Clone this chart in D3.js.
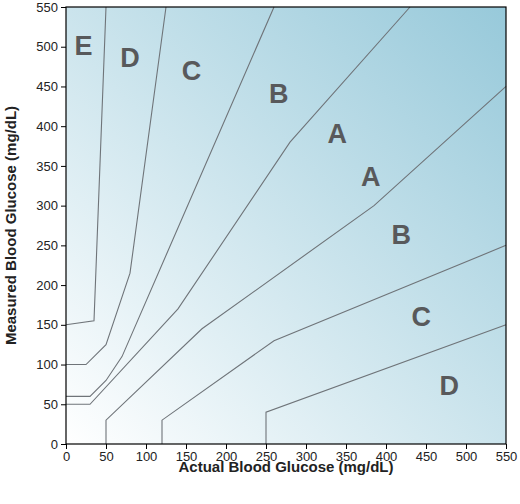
<!DOCTYPE html>
<html><head><meta charset="utf-8">
<script src="https://cdn.jsdelivr.net/npm/d3@7"></script>
<style>body{margin:0;background:#fff}</style>
</head><body><div id="chart"></div>
<script>
const ticks = d3.range(0, 551, 50);
const zoneLines = [
  [[0,50],[30,50],[140,170],[280,380],[430,550]],
  [[50,0],[50,30],[170,145],[385,300],[550,450]],
  [[0,60],[30,60],[50,80],[70,110],[260,550]],
  [[120,0],[120,30],[260,130],[550,250]],
  [[0,100],[25,100],[50,125],[80,215],[125,550]],
  [[250,0],[250,40],[550,150]],
  [[0,150],[35,155],[50,550]]
];
const zoneLabels = ["E","D","C","B","A","A","B","C","D"];
const labelX = [22, 80, 157, 266, 339, 381, 419, 444, 479];
const labelY = [502, 487, 470, 441, 391, 336, 263, 161, 73];

const W = 520, H = 504;
const margin = { top: 7, right: 14, bottom: 60, left: 66 };
const width = W - margin.left - margin.right;
const height = H - margin.top - margin.bottom;

const x = d3.scaleLinear().domain([0, 550]).range([0, width]);
const y = d3.scaleLinear().domain([0, 550]).range([height, 0]);

const root = d3.select("#chart").append("svg").attr("width", W).attr("height", H);
const defs = root.append("defs");
const grad = defs.append("linearGradient").attr("id", "bg")
  .attr("x1", "0%").attr("y1", "100%").attr("x2", "100%").attr("y2", "0%");
grad.append("stop").attr("offset", "0%").attr("stop-color", "#ffffff");
grad.append("stop").attr("offset", "100%").attr("stop-color", "#97c9da");

const svg = root.append("g").attr("transform", `translate(${margin.left},${margin.top})`);
svg.append("rect").attr("width", width).attr("height", height).attr("fill", "url(#bg)");

const line = d3.line().x(d => x(d[0])).y(d => y(d[1]));
svg.selectAll(".zone").data(zoneLines).join("path")
  .attr("d", line).attr("fill", "none").attr("stroke", "#6f7479").attr("stroke-width", 1.1);

svg.selectAll(".lab").data(zoneLabels).join("text")
  .attr("x", (d, i) => x(labelX[i])).attr("y", (d, i) => y(labelY[i]))
  .attr("text-anchor", "middle").attr("dy", "0.35em")
  .attr("font-family", "Liberation Sans, Arial, sans-serif").attr("font-weight", "bold")
  .attr("font-size", 27).attr("fill", "#58595b").text(d => d);

svg.append("rect").attr("width", width).attr("height", height)
  .attr("fill", "none").attr("stroke", "#000").attr("stroke-width", 1.2);

const fx = svg.append("g").attr("transform", `translate(0,${height})`)
  .call(d3.axisBottom(x).tickValues(ticks).tickSize(5).tickSizeOuter(0));
const fy = svg.append("g").call(d3.axisLeft(y).tickValues(ticks).tickSize(5).tickSizeOuter(0));
[fx, fy].forEach(g => {
  g.selectAll("text").attr("font-size", 13).attr("font-family", "Liberation Sans, Arial, sans-serif").attr("fill", "#222");
  g.select(".domain").remove();
});

root.append("text").attr("x", margin.left + width / 2).attr("y", 472)
  .attr("text-anchor", "middle").attr("font-family", "Liberation Sans, Arial, sans-serif")
  .attr("font-weight", "bold").attr("font-size", 15).attr("fill", "#222")
  .text("Actual Blood Glucose (mg/dL)");
root.append("text")
  .attr("transform", `translate(16,${margin.top + height / 2}) rotate(-90)`)
  .attr("text-anchor", "middle").attr("font-family", "Liberation Sans, Arial, sans-serif")
  .attr("font-weight", "bold").attr("font-size", 15).attr("fill", "#222")
  .text("Measured Blood Glucose (mg/dL)");
</script></body></html>
